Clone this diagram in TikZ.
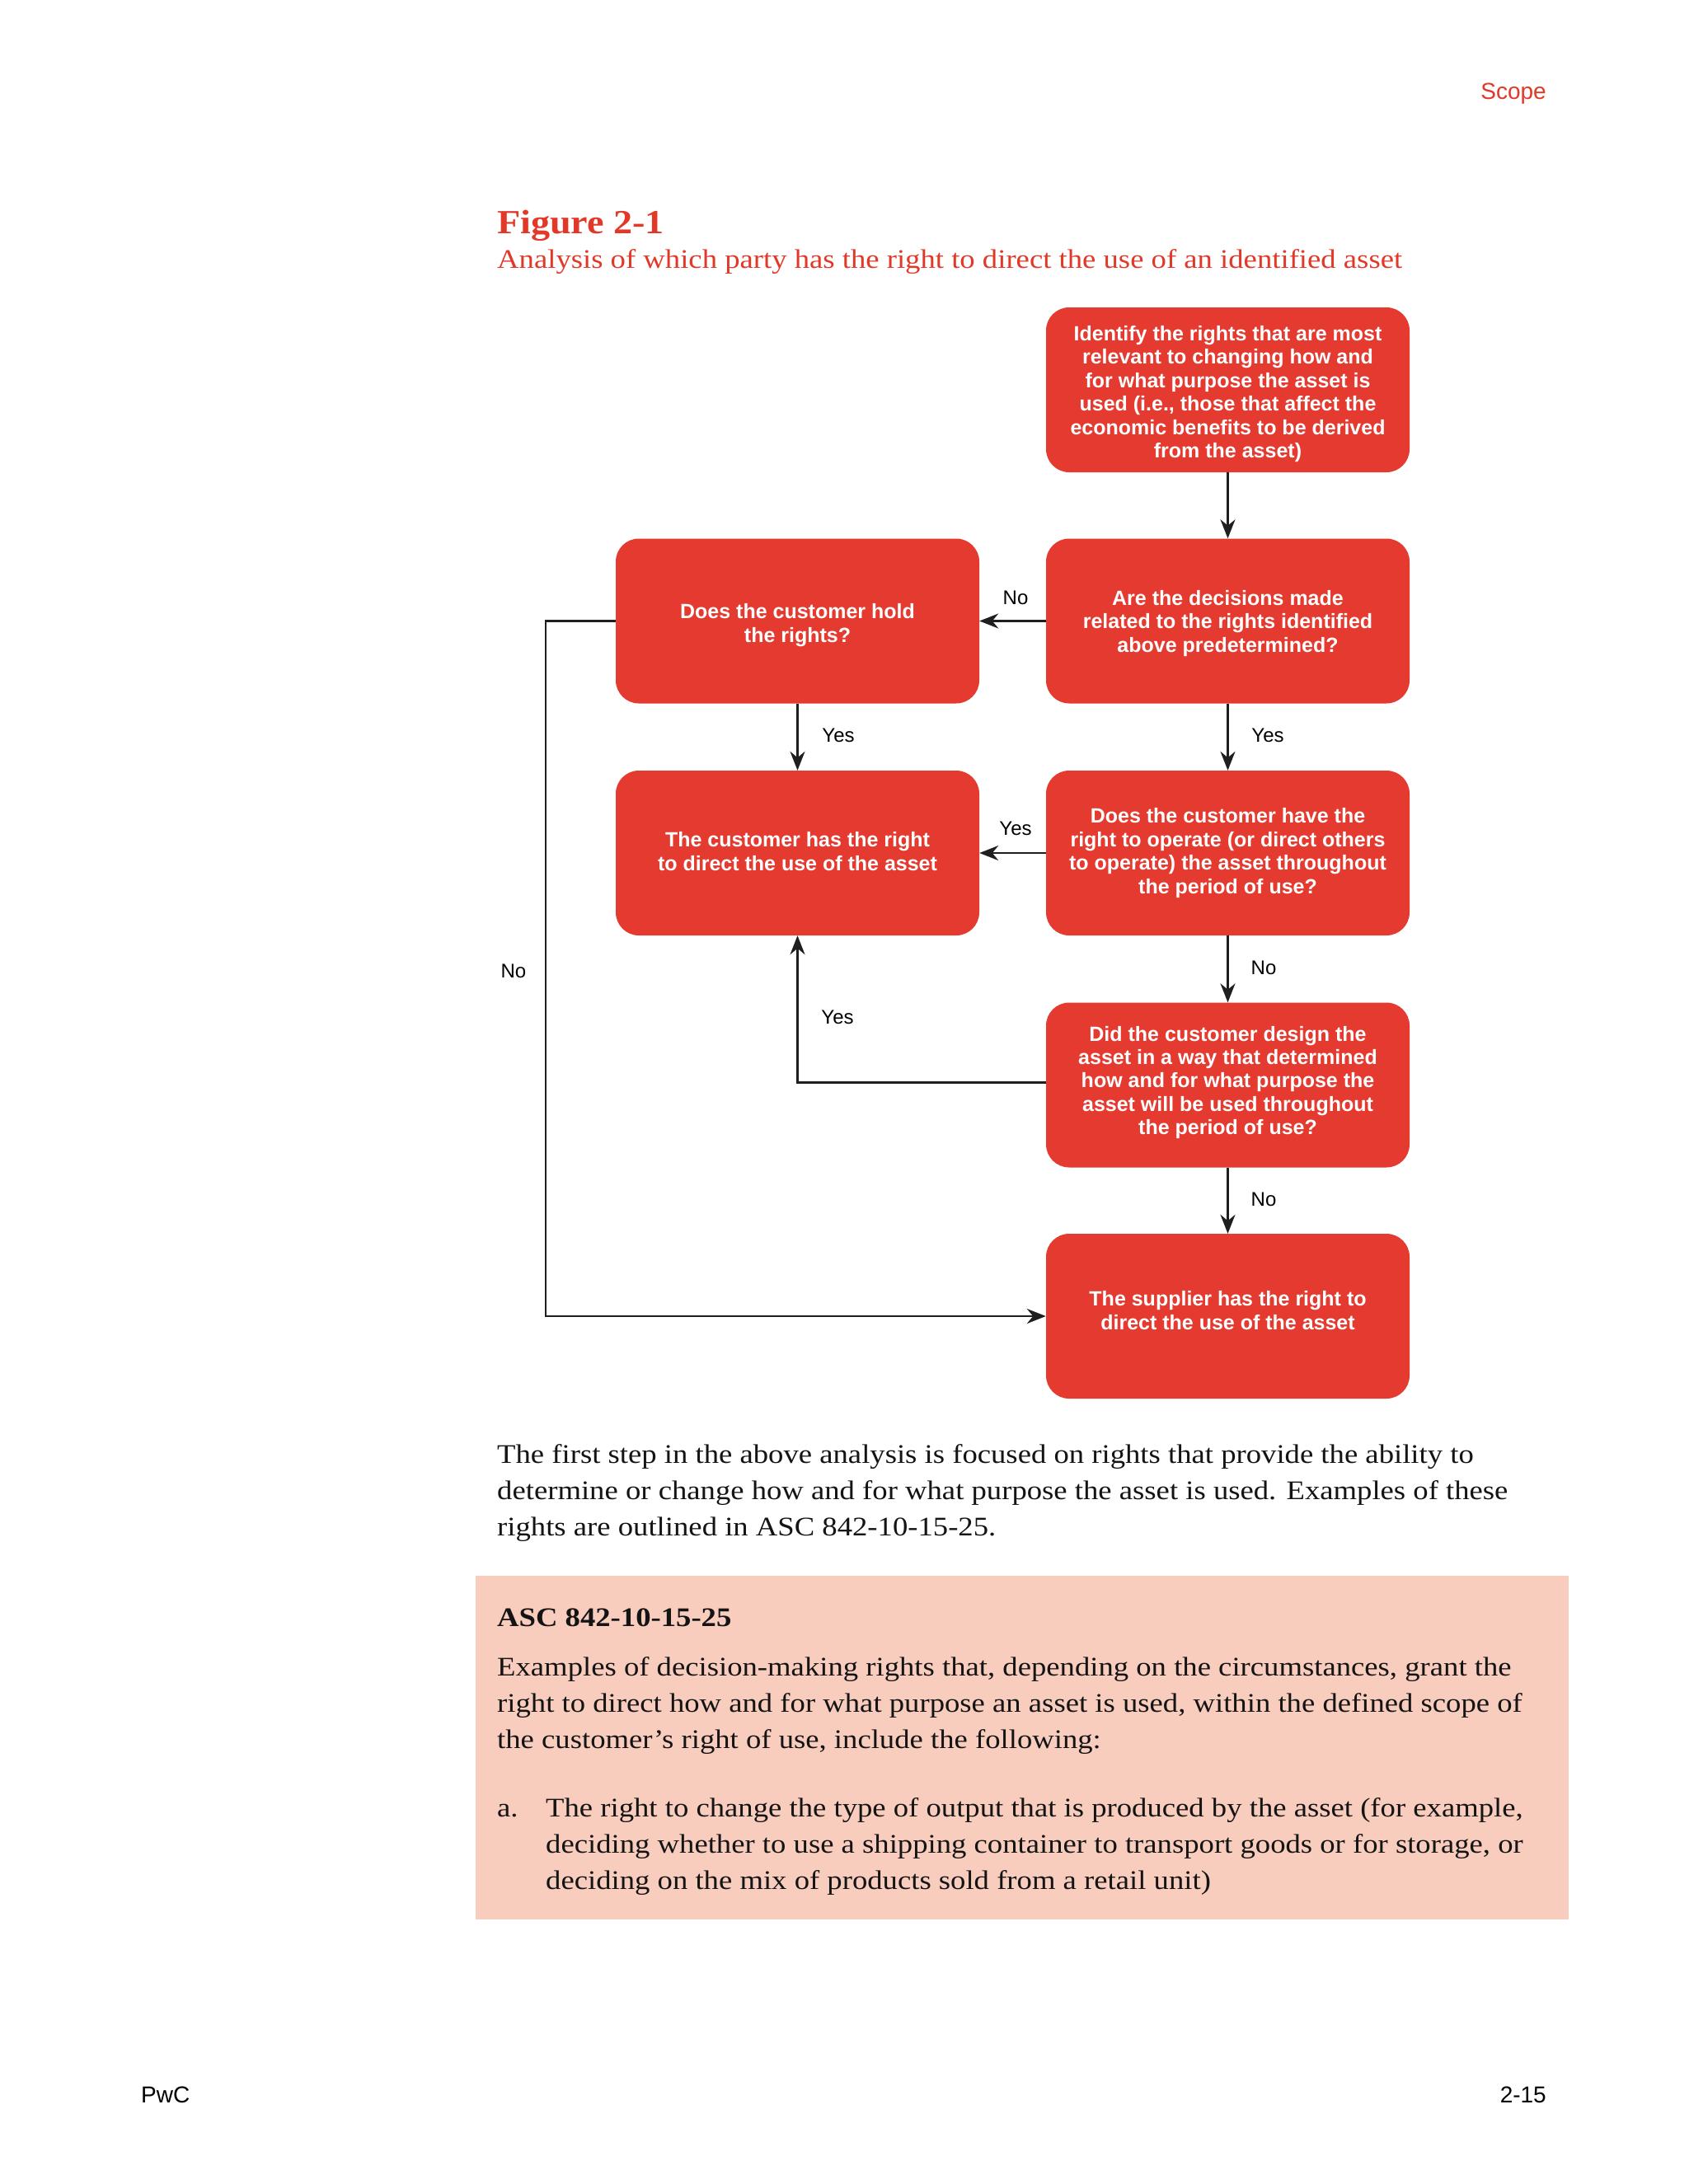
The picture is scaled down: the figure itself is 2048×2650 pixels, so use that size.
\documentclass[tikz,border=0pt]{standalone}
\usepackage{fontspec}
\setmainfont{Liberation Serif}[FakeStretch=1.125]
\newfontfamily\arialf{Liberation Sans}
\usetikzlibrary{arrows.meta}
\definecolor{pwcred}{RGB}{229,58,47}
\definecolor{titlered}{RGB}{226,56,40}
\definecolor{pinkbg}{RGB}{249,205,190}
\tikzset{
  box/.style={rectangle, rounded corners=28pt, fill=pwcred, draw=none,
    minimum width=441pt, minimum height=200pt, inner sep=0pt},
  boxtxt/.style={inner sep=0pt, align=center,
    text=white, font=\arialf\bfseries\fontsize{25}{28.4}\selectfont},
  conn/.style={draw=black!88, line width=2.3pt, -{Stealth[length=23pt,width=18pt]}},
  lab/.style={font=\arialf\fontsize{24}{28}\selectfont, inner sep=0pt},
  bodyline/.style={anchor=base west, inner sep=0pt, text=black!92, font=\fontsize{32.6}{44}\selectfont},
  footer/.style={inner sep=0pt, font=\arialf\fontsize{28}{32}\selectfont}
}
\begin{document}
\begin{tikzpicture}[x=1pt,y=-1pt]
\useasboundingbox (0,0) rectangle (2048,2650);
\fill[white] (0,0) rectangle (2048,2650);

% header / footer
\node[footer, anchor=base east, text=titlered] (scope) at (1876,120) {Scope};
\node[footer, anchor=base west] (pwc) at (171,2551) {PwC};
\node[footer, anchor=base east] (pgno) at (1876,2551) {2-15};

% title
\node[anchor=base west, inner sep=0pt, text=titlered, font=\bfseries\fontsize{41}{48}\selectfont] (fig) at (603,283) {Figure 2-1};
\node[bodyline, text=titlered] (sub) at (603,325) {Analysis of which party has the right to direct the use of an identified asset};

% flowchart boxes
\node[box] (id) at (1489.5,473) {};
\node[box] (pre) at (1489.5,753.5) {};
\node[box] (hold) at (967.5,753.5) {};
\node[box] (oper) at (1489.5,1035) {};
\node[box] (cust) at (967.5,1035) {};
\node[box] (design) at (1489.5,1316.5) {};
\node[box] (supp) at (1489.5,1597) {};

% box texts
\node[boxtxt] (id-t) at ([yshift=-5pt]id.center) {Identify the rights that are most\\relevant to changing how and\\for what purpose the asset is\\used (i.e., those that affect the\\economic benefits to be derived\\from the asset)};
\node[boxtxt] (pre-t) at ([yshift=-3pt]pre.center) {Are the decisions made\\related to the rights identified\\above predetermined?};
\node[boxtxt] (hold-t) at ([yshift=-5pt]hold.center) {Does the customer hold\\the rights?};
\node[boxtxt] (oper-t) at (oper.center) {Does the customer have the\\right to operate (or direct others\\to operate) the asset throughout\\the period of use?};
\node[boxtxt] (cust-t) at ([yshift=2pt]cust.center) {The customer has the right\\to direct the use of the asset};
\node[boxtxt] (design-t) at ([yshift=3pt]design.center) {Did the customer design the\\asset in a way that determined\\how and for what purpose the\\asset will be used throughout\\the period of use?};
\node[boxtxt] (supp-t) at ([yshift=7pt]supp.center) {The supplier has the right to\\direct the use of the asset};

% connectors
\draw[conn] (id) -- (pre);
\draw[conn] (pre) -- (hold);
\draw[conn] (hold) -- (cust);
\draw[conn] (pre) -- (oper);
\draw[conn] (oper) -- (cust);
\draw[conn] (oper) -- (design);
\draw[conn] ([yshift=3pt]design.west) -| (cust.south);
\draw[conn] (design) -- (supp);
\draw[conn] (hold.west) -- ++(-85,0) |- (supp.west);

% connector labels
\node[lab] (l1) at (1232,725) {No};
\node[lab] (l2) at (1017,892) {Yes};
\node[lab] (l3) at (1538,892) {Yes};
\node[lab] (l4) at (1232,1005) {Yes};
\node[lab] (l5) at (1533,1174) {No};
\node[lab] (l6) at (1016,1234) {Yes};
\node[lab] (l7) at (1533,1455) {No};
\node[lab] (l8) at (623,1178) {No};

% body paragraph
\node[bodyline] (b1) at (603,1775) {The first step in the above analysis is focused on rights that provide the ability to};
\node[bodyline] (b2) at (603,1819) {determine or change how and for what purpose the asset is used. Examples of these};
\node[bodyline] (b3) at (603,1863) {rights are outlined in ASC 842-10-15-25.};

% pink excerpt box
\fill[pinkbg] (577,1912) rectangle (1903,2329);
\node[bodyline, font=\bfseries\fontsize{32.6}{44}\selectfont] (asc) at (603,1973) {ASC 842-10-15-25};
\node[bodyline] (p1) at (603,2033) {Examples of decision-making rights that, depending on the circumstances, grant the};
\node[bodyline] (p2) at (603,2077) {right to direct how and for what purpose an asset is used, within the defined scope of};
\node[bodyline] (p3) at (603,2121) {the customer’s right of use, include the following:};
\node[bodyline] (ia) at (603,2204) {a.};
\node[bodyline] (i1) at (662,2204) {The right to change the type of output that is produced by the asset (for example,};
\node[bodyline] (i2) at (662,2248) {deciding whether to use a shipping container to transport goods or for storage, or};
\node[bodyline] (i3) at (662,2292) {deciding on the mix of products sold from a retail unit)};
\end{tikzpicture}
\end{document}
